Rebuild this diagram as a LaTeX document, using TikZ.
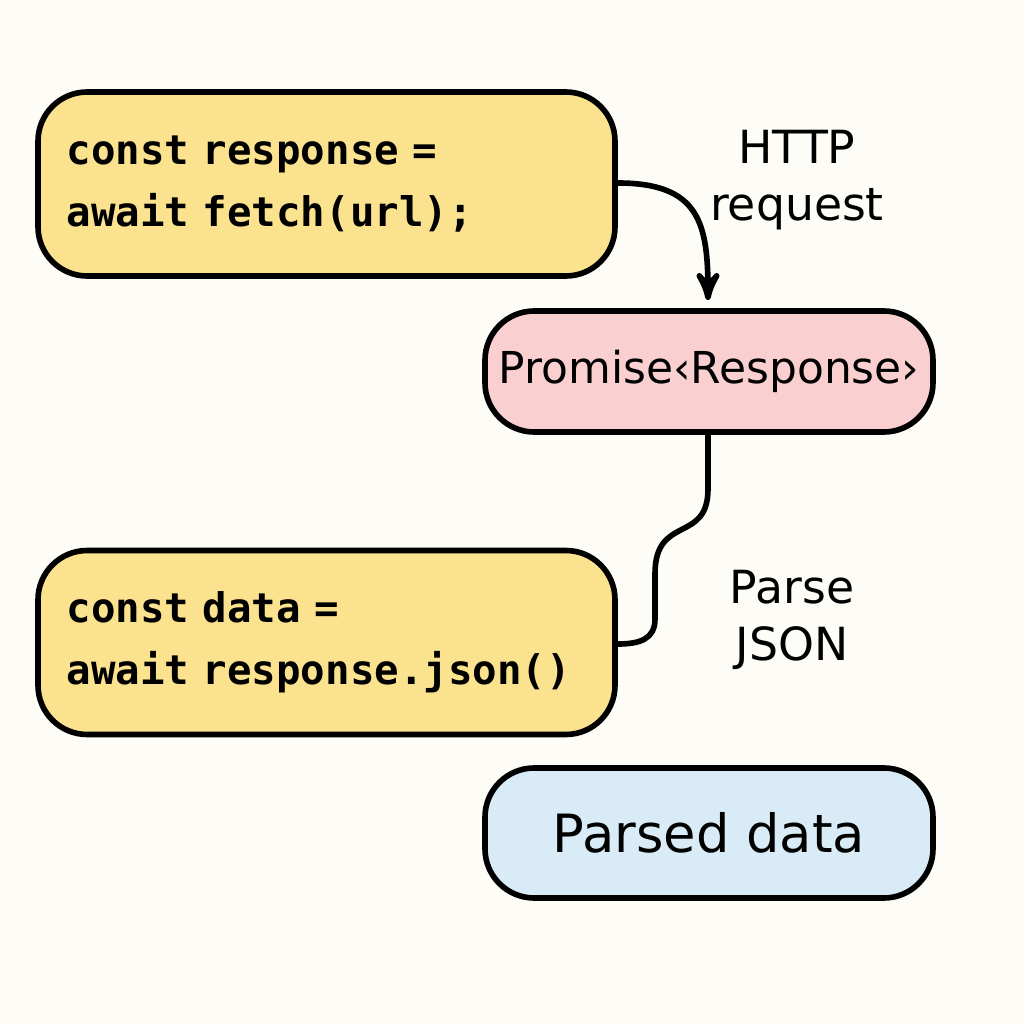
\documentclass[tikz,border=0pt]{standalone}
\usepackage{fontspec}
\setmainfont{DejaVu Sans}
\setmonofont{DejaVu Sans Mono}
\usetikzlibrary{arrows}
\definecolor{codefill}{HTML}{FBE28F}
\definecolor{promfill}{HTML}{F9CFD0}
\definecolor{datafill}{HTML}{D8EBF6}
\definecolor{bgfill}{HTML}{FDFCF7}
\begin{document}
\begin{tikzpicture}[>=stealth',line width=1.6pt,
  code box/.style={draw,rounded corners=14pt,fill=codefill,minimum width=5.77cm,
    minimum height=1.84cm,align=left,text width=5.2cm,inner xsep=0.285cm,
    font=\fontsize{11.6}{17.6}\selectfont\ttfamily\bfseries},
  val box/.style={draw,rounded corners=14pt,minimum width=4.48cm,font=\fontsize{12.5}{15}\selectfont}]
  \fill[bgfill] (0,0) rectangle (10.24,10.24);
  \useasboundingbox (0,0) rectangle (10.24,10.24);
  \node[code box] (fetch) at (3.265,8.40) {const response =\\await fetch(url);};
  \node[val box,fill=promfill,minimum height=1.21cm] (promise) at (7.09,6.525) {Promise‹Response›};
  \node[code box] (json) at (3.265,3.815) {const data =\\await response.json()};
  \node[val box,fill=datafill,minimum height=1.3cm,font=\fontsize{15}{18}\selectfont] (parsed) at (7.09,1.91) {Parsed data};
  \node[align=center,font=\fontsize{13}{16}\selectfont] (http) at (7.97,8.44) {HTTP\\request};
  \node[align=center,font=\fontsize{13}{16}\selectfont] (parse) at (7.92,4.04) {Parse\\JSON};
  % connectors
  \draw[->] (fetch.east |- 0,8.41) .. controls (7.0,8.41) and (7.08,8.0) .. (7.08,7.24);
  \draw (promise.south -| 7.08,0) -- (7.08,5.35) .. controls (7.08,4.8) and (6.55,5.1) .. (6.55,4.5)
    -- (6.55,4.05) .. controls (6.55,3.85) and (6.4,3.8) .. (json.east |- 0,3.8);
\end{tikzpicture}
\end{document}
